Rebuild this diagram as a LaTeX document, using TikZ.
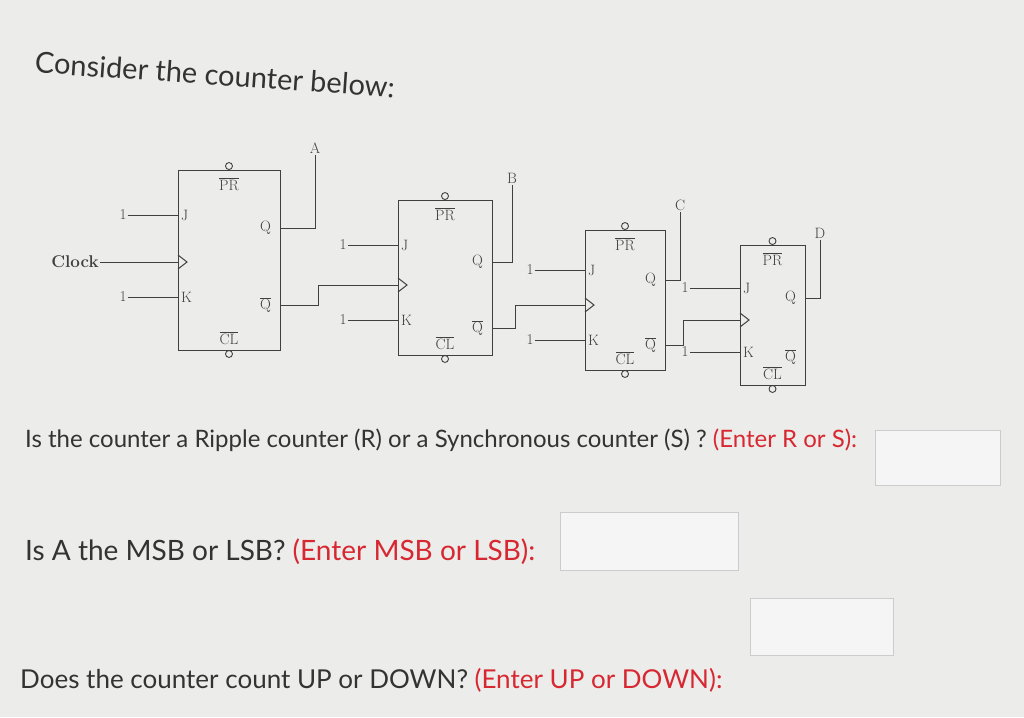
\documentclass[tikz,border=0pt]{standalone}
\usepackage{fontspec}
\newfontfamily\lato{Lato}
\definecolor{redq}{RGB}{215,40,50}
\definecolor{bg}{RGB}{236,236,234}
\begin{document}
\begin{tikzpicture}[x=1pt,y=-1pt,
  ff/.style={draw=black!75,line width=1pt},
  wire/.style={draw=black!75,line width=1pt},
  lbl/.style={font=\fontsize{15}{17}\selectfont,inner sep=1pt,text=black!75},
  bub/.style={circle,draw=black!75,line width=0.9pt,inner sep=0pt,minimum size=7pt},
  q/.style={text=black!80,anchor=west,inner sep=0pt},
  ans/.style={draw=black!20,fill=white!96!black,line width=0.8pt}]
\fill[bg] (0,0) rectangle (1024,717);
\useasboundingbox (0,0) rectangle (1024,717);
\node[q,font=\lato\fontsize{29}{32}\selectfont,rotate=-4] (title) at (35,62) {Consider the counter below:};
\node[lbl,font=\fontsize{17}{19}\selectfont\bfseries] (clk) at (75,262) {Clock};
\foreach \n/\l/\t/\r/\b/\jy/\cy/\ky/\qy/\qb in {1/178/170/280/350/215/262/297/228/305, 2/398/200/492/355/245/285/320/262/328, 3/585/230/665/370/270/305/340/280/345, 4/740/245/805/385/288/320/352/298/357}{
  \draw[ff] (\l,\t) rectangle (\r,\b);
  \coordinate (j\n) at (\l,\jy); \coordinate (c\n) at (\l,\cy); \coordinate (k\n) at (\l,\ky);
  \coordinate (q\n) at (\r,\qy); \coordinate (qb\n) at (\r,\qb);
  \node[lbl,anchor=west] at (\l+2,\jy) {J};
  \node[lbl,anchor=west] at (\l+2,\ky) {K};
  \node[lbl,anchor=east] at (\r-8,\qy) {Q};
  \node[lbl,anchor=east] at (\r-8,\qb) {$\overline{\mathrm{Q}}$};
  \draw[ff] (\l,\cy-7) -- (\l+9,\cy) -- (\l,\cy+7);
  \node[lbl] at ({(\l+\r)/2},\t+14) {$\overline{\mathrm{PR}}$};
  \node[lbl] at ({(\l+\r)/2},\b-12) {$\overline{\mathrm{CL}}$};
  \node[bub,anchor=south] at ({(\l+\r)/2},\t) {};
  \node[bub,anchor=north] at ({(\l+\r)/2},\b) {};
  \node[lbl] (one j\n) at (\l-55,\jy) {1};
  \node[lbl] (one k\n) at (\l-55,\ky) {1};
  \draw[wire] (one j\n) -- (j\n);
  \draw[wire] (one k\n) -- (k\n);
}
\draw[wire] (clk.east) -- (c1);
\foreach \n/\x/\y/\L in {1/315/155/A, 2/512/185/B, 3/680/212/C, 4/820/240/D}{
  \coordinate (o\n) at (\x,\y);
  \node[lbl,anchor=south] at (o\n) {\L};
  \draw[wire] (q\n) -| (o\n);
}
\draw[wire] (qb1) -| (318,285) -- (c2);
\draw[wire] (qb2) -| (515,305) -- (c3);
\draw[wire] (qb3) -| (683,320) -- (c4);
\node[q,font=\lato\fontsize{24}{27}\selectfont] (q1) at (25,440) {Is the counter a Ripple counter (R) or a Synchronous counter (S) ? {\color{redq}(Enter R or S):}};
\draw[ans] (875,430) rectangle (1000,485);
\node[q,font=\lato\fontsize{28}{31}\selectfont] (q2) at (25,552) {Is A the MSB or LSB? {\color{redq}(Enter MSB or LSB):}};
\draw[ans] (560,512) rectangle (738,570);
\node[q,font=\lato\fontsize{26}{29}\selectfont] (q3) at (20,680) {Does the counter count UP or DOWN? {\color{redq}(Enter UP or DOWN):}};
\draw[ans] (750,598) rectangle (893,655);
\end{tikzpicture}
\end{document}
